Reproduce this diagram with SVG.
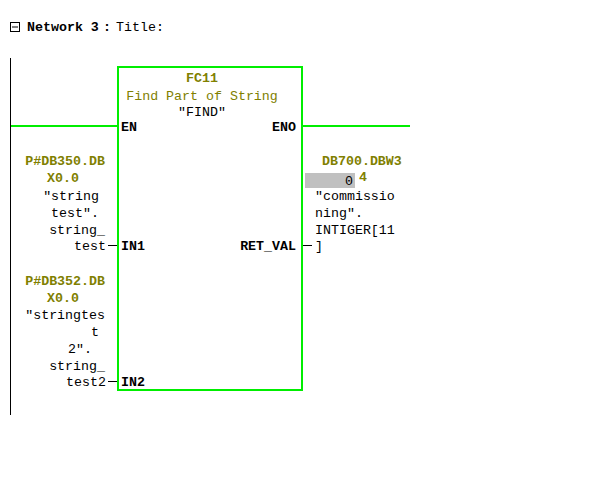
<svg xmlns="http://www.w3.org/2000/svg" width="600" height="501" viewBox="0 0 600 501">
<style>
text{font-family:"Liberation Mono","Courier New",monospace;font-size:13.3px;fill:#000}
.o{fill:#808000}
.b{font-weight:bold}
.r{text-anchor:end}
.m{text-anchor:middle}
.g{stroke:#00ee00;stroke-width:2;fill:none}
</style>
<rect width="600" height="501" fill="#fff"/>
<g id="header">
<rect x="10.5" y="22.5" width="9" height="9" fill="none" stroke="#000"/>
<line x1="12" y1="27" x2="18" y2="27" stroke="#000"/>
<text x="27" y="31" class="b">Network 3</text><text x="103" y="31" class="b">:</text><text x="116" y="31">Title:</text>
</g>
<g id="rail"><line x1="10.5" y1="58" x2="10.5" y2="415" stroke="#000"/></g>
<g id="connectors">
<line class="g" x1="11" y1="126" x2="118" y2="126"/>
<line class="g" x1="302" y1="126" x2="410" y2="126"/>
<line x1="108" y1="245.5" x2="118" y2="245.5" stroke="#000"/>
<line x1="108" y1="381.5" x2="118" y2="381.5" stroke="#000"/>
<line x1="302" y1="245.5" x2="312" y2="245.5" stroke="#000"/>
</g>
<g id="fc11">
<rect class="g" x="118" y="67" width="184" height="323"/>
<text x="202" y="82" class="o b m">FC11</text>
<text x="202" y="100" class="o m">Find Part of String</text>
<text x="202" y="116" class="m">"FIND"</text>
<text x="121" y="131" class="b">EN</text>
<text x="296" y="131" class="b r">ENO</text>
<text x="121" y="250" class="b">IN1</text>
<text x="121" y="386" class="b">IN2</text>
<text x="296" y="250" class="b r">RET_VAL</text>
</g>
<g id="in1">
<text x="105" y="165" class="o b r">P#DB350.DB</text>
<text x="63" y="182" class="o b m">X0.0</text>
<text x="99" y="200" class="r">"string</text>
<text x="99" y="217" class="r">test".</text>
<text x="105" y="234" class="r">string_</text>
<text x="106" y="250" class="r">test</text>
</g>
<g id="in2">
<text x="105" y="285" class="o b r">P#DB352.DB</text>
<text x="63" y="302" class="o b m">X0.0</text>
<text x="105" y="319" class="r">"stringtes</text>
<text x="99" y="336" class="r">t</text>
<text x="92" y="353" class="r">2".</text>
<text x="105" y="370" class="r">string_</text>
<text x="106" y="386" class="r">test2</text>
</g>
<g id="out">
<text x="322" y="165" class="o b">DB700.DBW3</text>
<rect x="305" y="173" width="50" height="15" fill="#c0c0c0"/>
<text x="353" y="185" class="r">0</text>
<text x="359" y="181" class="o b">4</text>
<text x="315" y="200">"commissio</text>
<text x="315" y="217">ning".</text>
<text x="315" y="234">INTIGER[11</text>
<text x="315" y="250">]</text>
</g>
</svg>
